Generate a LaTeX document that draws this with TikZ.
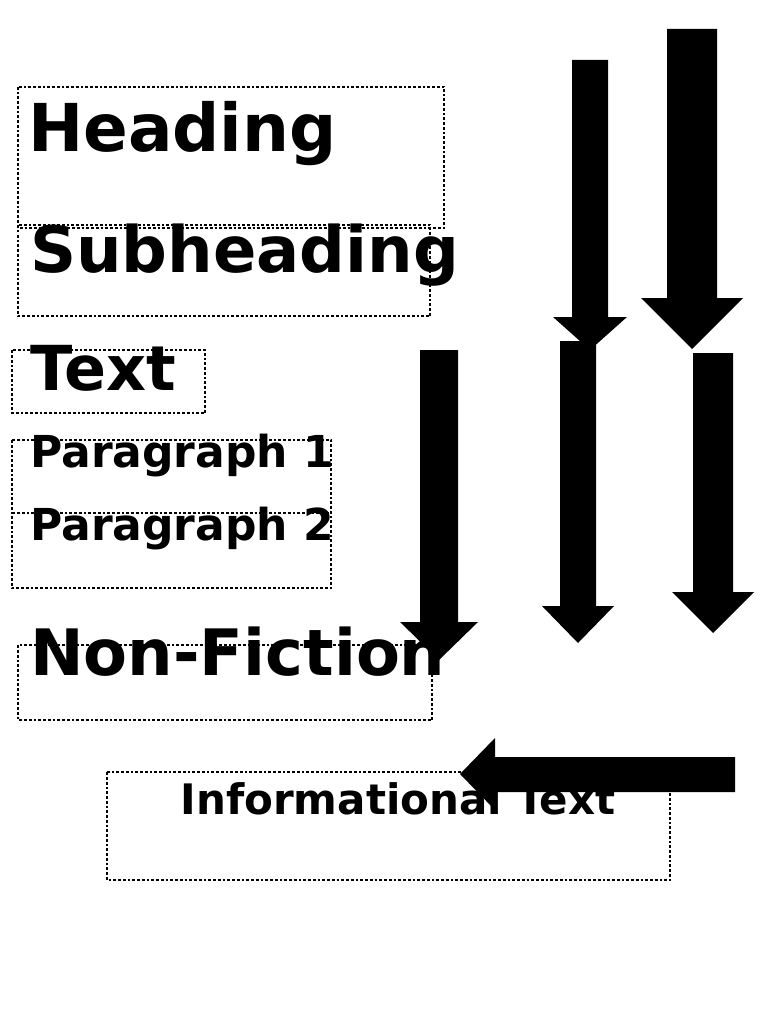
\documentclass[tikz,border=0pt]{standalone}
\usepackage{fontspec}
\setmainfont{DejaVu Sans}
\usetikzlibrary{positioning}
\tikzset{
  framebox/.style={draw=black, line width=2.5pt, dash dot},
  label/.style={anchor=base west, inner sep=0pt, font=\bfseries},
  blockarrow/.style={fill=black, draw=none}
}
\begin{document}
\begin{tikzpicture}[x=1pt,y=-1pt]
\useasboundingbox (0,0) rectangle (768,1024);
% boxes
\draw[framebox] (18,87) rectangle (444,228);
\draw[framebox] (18,225) rectangle (430,316);
\draw[framebox] (12,350) rectangle (205,413);
\draw[framebox] (12,440) rectangle (331,588);
\draw[framebox] (12,513) -- (331,513);
\draw[framebox] (18,645) rectangle (432,720);
\draw[framebox] (107,772) rectangle (670,880);
% labels
\node[label, font=\fontsize{66}{66}\selectfont\bfseries] (heading) at (28,152) {Heading};
\node[label, font=\fontsize{64}{64}\selectfont\bfseries] (subheading) at (30,272) {Subheading};
\node[label, font=\fontsize{62}{62}\selectfont\bfseries] (text) at (30,390) {Text};
\node[label, font=\fontsize{44}{44}\selectfont\bfseries] (para1) at (30,467) {Paragraph 1};
\node[label, font=\fontsize{44}{44}\selectfont\bfseries] (para2) at (30,540) {Paragraph 2};
\node[label, font=\fontsize{64}{64}\selectfont\bfseries] (nonfiction) at (30,675) {Non-Fiction};
\node[anchor=base, inner sep=0pt, font=\fontsize{42}{42}\selectfont\bfseries] (info) at (398,814) {Informational Text};
% arrows
\fill[blockarrow] (572,60) -- (608,60) -- (608,317) -- (627,317) -- (590,350) -- (553,317) -- (572,317) -- cycle;
\fill[blockarrow] (667,29) -- (717,29) -- (717,298) -- (743,298) -- (692,349) -- (641,298) -- (667,298) -- cycle;
\fill[blockarrow] (420,350) -- (458,350) -- (458,622) -- (478,622) -- (439,660) -- (400,622) -- (420,622) -- cycle;
\fill[blockarrow] (560,341) -- (596,341) -- (596,606) -- (614,606) -- (578,643) -- (542,606) -- (560,606) -- cycle;
\fill[blockarrow] (693,353) -- (733,353) -- (733,592) -- (754,592) -- (713,633) -- (672,592) -- (693,592) -- cycle;
\fill[blockarrow] (735,757) -- (735,792) -- (495,792) -- (495,810) -- (460,774) -- (495,738) -- (495,757) -- cycle;
\end{tikzpicture}
\end{document}
